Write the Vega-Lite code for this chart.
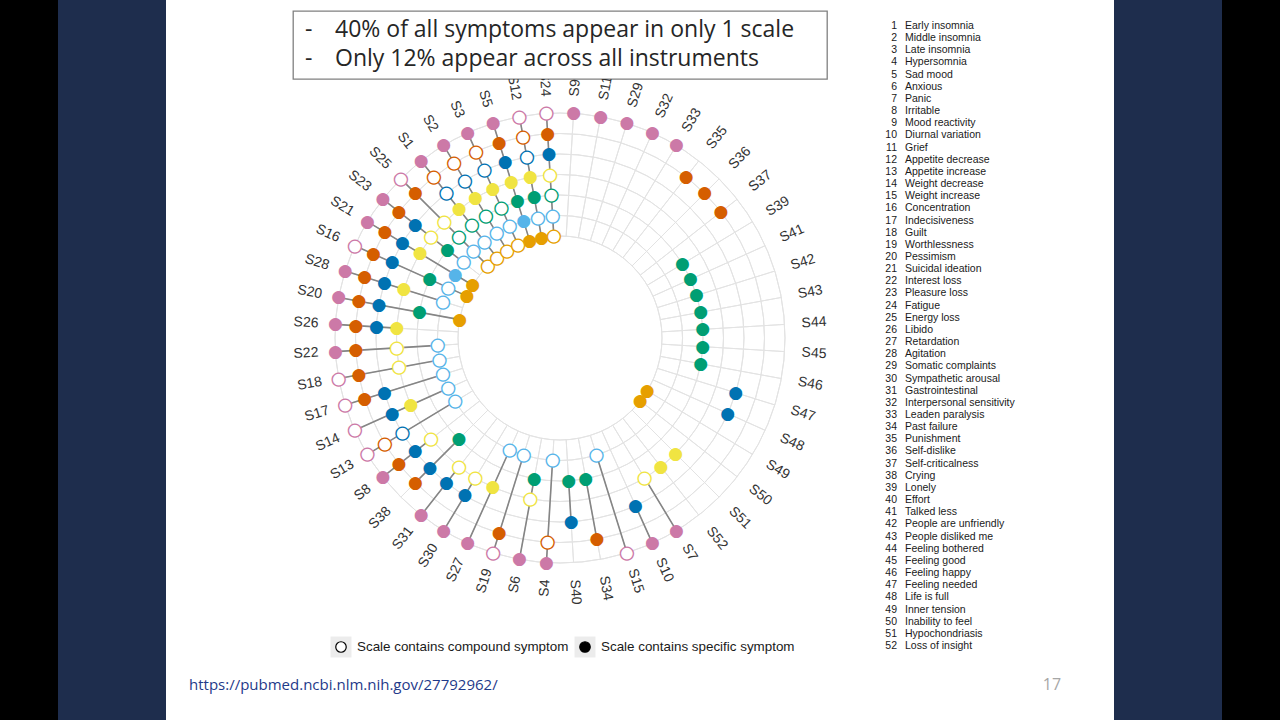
{
"$schema": "https://vega.github.io/schema/vega-lite/v6.json",
"background": "white",
"padding": 0,
"bounds": "flush",
"spacing": 0,
"columns": 7,
"align": "each",
"config": {"view": {"stroke": null}, "concat": {"spacing": 0}, "text": {"font": "Liberation Sans"}},
"datasets": {
"points": [
{"sym":"S9","scale":1,"type":"specific"},
{"sym":"S11","scale":1,"type":"specific"},
{"sym":"S29","scale":1,"type":"specific"},
{"sym":"S32","scale":1,"type":"specific"},
{"sym":"S33","scale":1,"type":"specific"},
{"sym":"S35","scale":2,"type":"specific"},
{"sym":"S36","scale":2,"type":"specific"},
{"sym":"S37","scale":2,"type":"specific"},
{"sym":"S39","scale":5,"type":"specific"},
{"sym":"S41","scale":5,"type":"specific"},
{"sym":"S42","scale":5,"type":"specific"},
{"sym":"S43","scale":5,"type":"specific"},
{"sym":"S44","scale":5,"type":"specific"},
{"sym":"S45","scale":5,"type":"specific"},
{"sym":"S46","scale":5,"type":"specific"},
{"sym":"S47","scale":3,"type":"specific"},
{"sym":"S48","scale":3,"type":"specific"},
{"sym":"S49","scale":7,"type":"specific"},
{"sym":"S50","scale":7,"type":"specific"},
{"sym":"S51","scale":4,"type":"specific"},
{"sym":"S52","scale":4,"type":"specific"},
{"sym":"S7","scale":1,"type":"specific"},
{"sym":"S7","scale":4,"type":"compound"},
{"sym":"S10","scale":1,"type":"specific"},
{"sym":"S10","scale":3,"type":"specific"},
{"sym":"S15","scale":1,"type":"compound"},
{"sym":"S15","scale":6,"type":"compound"},
{"sym":"S34","scale":2,"type":"specific"},
{"sym":"S34","scale":5,"type":"specific"},
{"sym":"S40","scale":3,"type":"specific"},
{"sym":"S40","scale":5,"type":"specific"},
{"sym":"S4","scale":1,"type":"specific"},
{"sym":"S4","scale":2,"type":"compound"},
{"sym":"S4","scale":6,"type":"compound"},
{"sym":"S6","scale":1,"type":"specific"},
{"sym":"S6","scale":4,"type":"compound"},
{"sym":"S6","scale":5,"type":"specific"},
{"sym":"S19","scale":1,"type":"compound"},
{"sym":"S19","scale":2,"type":"specific"},
{"sym":"S19","scale":6,"type":"compound"},
{"sym":"S27","scale":1,"type":"specific"},
{"sym":"S27","scale":4,"type":"specific"},
{"sym":"S27","scale":6,"type":"compound"},
{"sym":"S30","scale":1,"type":"specific"},
{"sym":"S30","scale":3,"type":"specific"},
{"sym":"S30","scale":4,"type":"compound"},
{"sym":"S31","scale":1,"type":"specific"},
{"sym":"S31","scale":3,"type":"specific"},
{"sym":"S31","scale":4,"type":"compound"},
{"sym":"S38","scale":2,"type":"specific"},
{"sym":"S38","scale":3,"type":"specific"},
{"sym":"S38","scale":5,"type":"specific"},
{"sym":"S8","scale":1,"type":"specific"},
{"sym":"S8","scale":2,"type":"specific"},
{"sym":"S8","scale":3,"type":"specific"},
{"sym":"S8","scale":4,"type":"compound"},
{"sym":"S13","scale":1,"type":"compound"},
{"sym":"S13","scale":2,"type":"compound"},
{"sym":"S13","scale":3,"type":"compound"},
{"sym":"S13","scale":6,"type":"compound"},
{"sym":"S14","scale":1,"type":"compound"},
{"sym":"S14","scale":3,"type":"specific"},
{"sym":"S14","scale":4,"type":"specific"},
{"sym":"S14","scale":6,"type":"compound"},
{"sym":"S17","scale":1,"type":"compound"},
{"sym":"S17","scale":2,"type":"specific"},
{"sym":"S17","scale":3,"type":"specific"},
{"sym":"S17","scale":6,"type":"compound"},
{"sym":"S18","scale":1,"type":"compound"},
{"sym":"S18","scale":2,"type":"specific"},
{"sym":"S18","scale":4,"type":"compound"},
{"sym":"S18","scale":6,"type":"compound"},
{"sym":"S22","scale":1,"type":"specific"},
{"sym":"S22","scale":2,"type":"specific"},
{"sym":"S22","scale":4,"type":"compound"},
{"sym":"S22","scale":6,"type":"compound"},
{"sym":"S26","scale":1,"type":"specific"},
{"sym":"S26","scale":2,"type":"specific"},
{"sym":"S26","scale":3,"type":"specific"},
{"sym":"S26","scale":4,"type":"specific"},
{"sym":"S20","scale":1,"type":"specific"},
{"sym":"S20","scale":2,"type":"specific"},
{"sym":"S20","scale":3,"type":"specific"},
{"sym":"S20","scale":5,"type":"specific"},
{"sym":"S20","scale":7,"type":"specific"},
{"sym":"S28","scale":1,"type":"specific"},
{"sym":"S28","scale":2,"type":"specific"},
{"sym":"S28","scale":3,"type":"specific"},
{"sym":"S28","scale":4,"type":"specific"},
{"sym":"S28","scale":6,"type":"compound"},
{"sym":"S16","scale":1,"type":"compound"},
{"sym":"S16","scale":2,"type":"specific"},
{"sym":"S16","scale":3,"type":"specific"},
{"sym":"S16","scale":5,"type":"specific"},
{"sym":"S16","scale":6,"type":"compound"},
{"sym":"S16","scale":7,"type":"specific"},
{"sym":"S21","scale":1,"type":"specific"},
{"sym":"S21","scale":2,"type":"specific"},
{"sym":"S21","scale":3,"type":"specific"},
{"sym":"S21","scale":4,"type":"specific"},
{"sym":"S21","scale":6,"type":"specific"},
{"sym":"S21","scale":7,"type":"specific"},
{"sym":"S23","scale":1,"type":"specific"},
{"sym":"S23","scale":2,"type":"specific"},
{"sym":"S23","scale":3,"type":"specific"},
{"sym":"S23","scale":4,"type":"compound"},
{"sym":"S23","scale":5,"type":"specific"},
{"sym":"S23","scale":6,"type":"compound"},
{"sym":"S25","scale":1,"type":"compound"},
{"sym":"S25","scale":2,"type":"specific"},
{"sym":"S25","scale":4,"type":"compound"},
{"sym":"S25","scale":5,"type":"compound"},
{"sym":"S25","scale":6,"type":"compound"},
{"sym":"S25","scale":7,"type":"compound"},
{"sym":"S1","scale":1,"type":"specific"},
{"sym":"S1","scale":2,"type":"compound"},
{"sym":"S1","scale":3,"type":"compound"},
{"sym":"S1","scale":4,"type":"specific"},
{"sym":"S1","scale":5,"type":"compound"},
{"sym":"S1","scale":6,"type":"compound"},
{"sym":"S1","scale":7,"type":"compound"},
{"sym":"S2","scale":1,"type":"specific"},
{"sym":"S2","scale":2,"type":"compound"},
{"sym":"S2","scale":3,"type":"compound"},
{"sym":"S2","scale":4,"type":"specific"},
{"sym":"S2","scale":5,"type":"compound"},
{"sym":"S2","scale":6,"type":"compound"},
{"sym":"S2","scale":7,"type":"compound"},
{"sym":"S3","scale":1,"type":"specific"},
{"sym":"S3","scale":2,"type":"compound"},
{"sym":"S3","scale":3,"type":"compound"},
{"sym":"S3","scale":4,"type":"specific"},
{"sym":"S3","scale":5,"type":"compound"},
{"sym":"S3","scale":6,"type":"compound"},
{"sym":"S3","scale":7,"type":"compound"},
{"sym":"S5","scale":1,"type":"specific"},
{"sym":"S5","scale":2,"type":"specific"},
{"sym":"S5","scale":3,"type":"specific"},
{"sym":"S5","scale":4,"type":"specific"},
{"sym":"S5","scale":5,"type":"specific"},
{"sym":"S5","scale":6,"type":"specific"},
{"sym":"S5","scale":7,"type":"specific"},
{"sym":"S12","scale":1,"type":"compound"},
{"sym":"S12","scale":2,"type":"compound"},
{"sym":"S12","scale":3,"type":"compound"},
{"sym":"S12","scale":4,"type":"specific"},
{"sym":"S12","scale":5,"type":"specific"},
{"sym":"S12","scale":6,"type":"compound"},
{"sym":"S12","scale":7,"type":"specific"},
{"sym":"S24","scale":1,"type":"compound"},
{"sym":"S24","scale":2,"type":"specific"},
{"sym":"S24","scale":3,"type":"specific"},
{"sym":"S24","scale":4,"type":"compound"},
{"sym":"S24","scale":5,"type":"compound"},
{"sym":"S24","scale":6,"type":"compound"},
{"sym":"S24","scale":7,"type":"compound"}
],
"names": [
{"num":1,"name":"Early insomnia"},{"num":2,"name":"Middle insomnia"},{"num":3,"name":"Late insomnia"},{"num":4,"name":"Hypersomnia"},{"num":5,"name":"Sad mood"},{"num":6,"name":"Anxious"},{"num":7,"name":"Panic"},{"num":8,"name":"Irritable"},{"num":9,"name":"Mood reactivity"},{"num":10,"name":"Diurnal variation"},{"num":11,"name":"Grief"},{"num":12,"name":"Appetite decrease"},{"num":13,"name":"Appetite increase"},{"num":14,"name":"Weight decrease"},{"num":15,"name":"Weight increase"},{"num":16,"name":"Concentration"},{"num":17,"name":"Indecisiveness"},{"num":18,"name":"Guilt"},{"num":19,"name":"Worthlessness"},{"num":20,"name":"Pessimism"},{"num":21,"name":"Suicidal ideation"},{"num":22,"name":"Interest loss"},{"num":23,"name":"Pleasure loss"},{"num":24,"name":"Fatigue"},{"num":25,"name":"Energy loss"},{"num":26,"name":"Libido"},{"num":27,"name":"Retardation"},{"num":28,"name":"Agitation"},{"num":29,"name":"Somatic complaints"},{"num":30,"name":"Sympathetic arousal"},{"num":31,"name":"Gastrointestinal"},{"num":32,"name":"Interpersonal sensitivity"},{"num":33,"name":"Leaden paralysis"},{"num":34,"name":"Past failure"},{"num":35,"name":"Punishment"},{"num":36,"name":"Self-dislike"},{"num":37,"name":"Self-criticalness"},{"num":38,"name":"Crying"},{"num":39,"name":"Lonely"},{"num":40,"name":"Effort"},{"num":41,"name":"Talked less"},{"num":42,"name":"People are unfriendly"},{"num":43,"name":"People disliked me"},{"num":44,"name":"Feeling bothered"},{"num":45,"name":"Feeling good"},{"num":46,"name":"Feeling happy"},{"num":47,"name":"Feeling needed"},{"num":48,"name":"Life is full"},{"num":49,"name":"Inner tension"},{"num":50,"name":"Inability to feel"},{"num":51,"name":"Hypochondriasis"},{"num":52,"name":"Loss of insight"}
],
"titleLines": [
{"line":1,"text":"40% of all symptoms appear in only 1 scale"},
{"line":2,"text":"Only 12% appear across all instruments"}
],
"legendItems": [
{"item":"compound","label":"Scale contains compound symptom"},
{"item":"specific","label":"Scale contains specific symptom"}
]
},
"concat": [
{"width":58,"height":11,"view":{"fill":"#000000"},"data":{"values":[]},"mark":"text"},
{"width":108,"height":11,"view":{"fill":"#1e2d4d"},"data":{"values":[]},"mark":"text"},
{"width":127,"height":11,"data":{"values":[]},"mark":"text"},
{"width":534,"height":11,"data":{"values":[]},"mark":"text"},
{"width":287,"height":11,"data":{"values":[]},"mark":"text"},
{"width":108,"height":11,"view":{"fill":"#1e2d4d"},"data":{"values":[]},"mark":"text"},
{"width":58,"height":11,"view":{"fill":"#000000"},"data":{"values":[]},"mark":"text"},

{"width":58,"height":68,"view":{"fill":"#000000"},"data":{"values":[]},"mark":"text"},
{"width":108,"height":68,"view":{"fill":"#1e2d4d"},"data":{"values":[]},"mark":"text"},
{"width":127,"height":68,"data":{"values":[]},"mark":"text"},
{"width":534,"height":68,"view":{"stroke":"#808080","strokeWidth":1.3,"fill":"white"},
 "data":{"name":"titleLines"},
 "encoding":{"y":{"field":"line","type":"ordinal","scale":{"type":"point","range":[19,48],"padding":0},"axis":null}},
 "layer":[
   {"mark":{"type":"text","text":"-","align":"left","baseline":"middle","dx":-255,"font":"Open Sans","fontSize":23,"color":"#262626"}},
   {"mark":{"type":"text","align":"left","baseline":"middle","dx":-225,"font":"Open Sans","fontSize":23,"color":"#262626"},"encoding":{"text":{"field":"text"}}}
 ]},
{"width":287,"height":68,"data":{"name":"names"},
 "encoding":{"y":{"field":"num","type":"quantitative","scale":{"domain":[1,52],"range":[15,635],"zero":false,"nice":false},"axis":null}},
 "layer":[
   {"mark":{"type":"text","align":"right","baseline":"middle","dx":-73.5,"fontSize":10.5,"color":"#1a1a1a"},"encoding":{"text":{"field":"num"}}},
   {"mark":{"type":"text","align":"left","baseline":"middle","dx":-65.5,"fontSize":10.5,"color":"#1a1a1a"},"encoding":{"text":{"field":"name"}}}
 ]},
{"width":108,"height":68,"view":{"fill":"#1e2d4d"},"data":{"values":[]},"mark":"text"},
{"width":58,"height":68,"view":{"fill":"#000000"},"data":{"values":[]},"mark":"text"},

{"width":58,"height":518,"view":{"fill":"#000000"},"data":{"values":[]},"mark":"text"},
{"width":108,"height":518,"view":{"fill":"#1e2d4d"},"data":{"values":[]},"mark":"text"},
{"width":127,"height":518,"data":{"values":[]},"mark":"text"},
{"width":534,"height":518,"data":{"name":"points"},
 "resolve":{"scale":{"angle":"independent"}},
 "layer":[
   {"transform":[{"aggregate":[{"op":"count","as":"n"}],"groupby":["scale"]}],
    "mark":{"type":"arc","theta":0,"theta2":6.2832,"filled":false,"fill":null,"stroke":"#e3e3e3","strokeWidth":1},
    "encoding":{"radius":{"field":"scale","type":"quantitative","scale":{"type":"linear","domain":[1,7],"range":[225,102],"zero":false,"nice":false}},"radius2":{"field":"scale"}}},
   {"transform":[{"aggregate":[{"op":"count","as":"n"}],"groupby":["sym"]}],
    "mark":{"type":"arc","filled":false,"fill":null,"stroke":"#e3e3e3","strokeWidth":1},
    "encoding":{
      "theta":{"field":"sym","type":"nominal","scale":{"type":"point","domain":["S9","S11","S29","S32","S33","S35","S36","S37","S39","S41","S42","S43","S44","S45","S46","S47","S48","S49","S50","S51","S52","S7","S10","S15","S34","S40","S4","S6","S19","S27","S30","S31","S38","S8","S13","S14","S17","S18","S22","S26","S20","S28","S16","S21","S23","S25","S1","S2","S3","S5","S12","S24"],"range":[0,6.283185307179586],"padding":0.5}},
      "theta2":{"field":"sym"},
      "radius":{"datum":1,"type":"quantitative","scale":{"type":"linear","domain":[1,7],"range":[225,102],"zero":false,"nice":false}},
      "radius2":{"datum":7}}},
   {"transform":[{"aggregate":[{"op":"min","field":"scale","as":"outer"},{"op":"max","field":"scale","as":"inner"}],"groupby":["sym"]},{"filter":"datum.outer < datum.inner"}],
    "mark":{"type":"arc","filled":false,"fill":null,"stroke":"#858585","strokeWidth":1.6},
    "encoding":{
      "theta":{"field":"sym","type":"nominal"},
      "theta2":{"field":"sym"},
      "radius":{"field":"outer","type":"quantitative"},
      "radius2":{"field":"inner"}}},
   {"transform":[{"filter":{"field":"type","equal":"specific"}}],
    "mark":{"type":"text","text":"●","font":"DejaVu Sans","fontSize":17,"align":"center","baseline":"middle"},
    "encoding":{
      "theta":{"field":"sym","type":"nominal"},
      "radius":{"field":"scale","type":"quantitative"},
      "color":{"field":"scale","type":"nominal","scale":{"domain":[1,2,3,4,5,6,7],"range":["#CC79A7","#D55E00","#0072B2","#F0E442","#009E73","#56B4E9","#E69F00"]},"legend":null}}},
   {"transform":[{"filter":{"field":"type","equal":"compound"}}],
    "mark":{"type":"text","text":"●","font":"DejaVu Sans","fontSize":17,"align":"center","baseline":"middle","fill":"white","strokeWidth":1.3},
    "encoding":{
      "theta":{"field":"sym","type":"nominal"},
      "radius":{"field":"scale","type":"quantitative"},
      "stroke":{"field":"scale","type":"nominal","scale":{"domain":[1,2,3,4,5,6,7],"range":["#CC79A7","#D55E00","#0072B2","#F0E442","#009E73","#56B4E9","#E69F00"]},"legend":null}}},
   {"transform":[{"aggregate":[{"op":"count","as":"n"}],"groupby":["sym"]},{"filter":{"field":"sym","oneOf":["S29","S32","S33","S35","S36","S37","S39","S41","S42","S43","S44","S45","S46","S47","S48","S49","S50","S51","S52","S7","S10","S15","S34","S40"]}}],
    "mark":{"type":"text","align":"left","baseline":"middle","fontSize":14,"color":"#333333"},
    "encoding":{
      "theta":{"field":"sym","type":"nominal"},
      "radius":{"datum":0.17,"type":"quantitative"},
      "angle":{"field":"sym","type":"nominal","scale":{"type":"point","domain":["S9","S11","S29","S32","S33","S35","S36","S37","S39","S41","S42","S43","S44","S45","S46","S47","S48","S49","S50","S51","S52","S7","S10","S15","S34","S40","S4","S6","S19","S27","S30","S31","S38","S8","S13","S14","S17","S18","S22","S26","S20","S28","S16","S21","S23","S25","S1","S2","S3","S5","S12","S24"],"range":[-90,270],"padding":0.5}},
      "text":{"field":"sym"}}},
   {"transform":[{"aggregate":[{"op":"count","as":"n"}],"groupby":["sym"]},{"filter":{"field":"sym","oneOf":["S9","S11"]}}],
    "mark":{"type":"text","align":"left","baseline":"middle","fontSize":14,"color":"#333333","clip":true},
    "encoding":{
      "theta":{"field":"sym","type":"nominal"},
      "radius":{"datum":0.17,"type":"quantitative"},
      "angle":{"field":"sym","type":"nominal","scale":{"type":"point","domain":["S9","S11","S29","S32","S33","S35","S36","S37","S39","S41","S42","S43","S44","S45","S46","S47","S48","S49","S50","S51","S52","S7","S10","S15","S34","S40","S4","S6","S19","S27","S30","S31","S38","S8","S13","S14","S17","S18","S22","S26","S20","S28","S16","S21","S23","S25","S1","S2","S3","S5","S12","S24"],"range":[-90,270],"padding":0.5}},
      "text":{"field":"sym"}}},
   {"transform":[{"aggregate":[{"op":"count","as":"n"}],"groupby":["sym"]},{"filter":{"field":"sym","oneOf":["S4","S6","S19","S27","S30","S31","S38","S8","S13","S14","S17","S18","S22","S26","S20","S28","S16","S21","S23","S25","S1","S2","S3","S5"]}}],
    "mark":{"type":"text","align":"right","baseline":"middle","fontSize":14,"color":"#333333"},
    "encoding":{
      "theta":{"field":"sym","type":"nominal"},
      "radius":{"datum":0.17,"type":"quantitative"},
      "angle":{"field":"sym","type":"nominal","scale":{"type":"point","domain":["S9","S11","S29","S32","S33","S35","S36","S37","S39","S41","S42","S43","S44","S45","S46","S47","S48","S49","S50","S51","S52","S7","S10","S15","S34","S40","S4","S6","S19","S27","S30","S31","S38","S8","S13","S14","S17","S18","S22","S26","S20","S28","S16","S21","S23","S25","S1","S2","S3","S5","S12","S24"],"range":[90,450],"padding":0.5}},
      "text":{"field":"sym"}}},
   {"transform":[{"aggregate":[{"op":"count","as":"n"}],"groupby":["sym"]},{"filter":{"field":"sym","oneOf":["S12","S24"]}}],
    "mark":{"type":"text","align":"right","baseline":"middle","fontSize":14,"color":"#333333","clip":true},
    "encoding":{
      "theta":{"field":"sym","type":"nominal"},
      "radius":{"datum":0.17,"type":"quantitative"},
      "angle":{"field":"sym","type":"nominal","scale":{"type":"point","domain":["S9","S11","S29","S32","S33","S35","S36","S37","S39","S41","S42","S43","S44","S45","S46","S47","S48","S49","S50","S51","S52","S7","S10","S15","S34","S40","S4","S6","S19","S27","S30","S31","S38","S8","S13","S14","S17","S18","S22","S26","S20","S28","S16","S21","S23","S25","S1","S2","S3","S5","S12","S24"],"range":[90,450],"padding":0.5}},
      "text":{"field":"sym"}}}
 ]},
{"width":287,"height":518,"data":{"values":[]},"mark":"text"},
{"width":108,"height":518,"view":{"fill":"#1e2d4d"},"data":{"values":[]},"mark":"text"},
{"width":58,"height":518,"view":{"fill":"#000000"},"data":{"values":[]},"mark":"text"},

{"width":58,"height":100,"view":{"fill":"#000000"},"data":{"values":[]},"mark":"text"},
{"width":108,"height":100,"view":{"fill":"#1e2d4d"},"data":{"values":[]},"mark":"text"},
{"width":127,"height":100,"data":{"values":[]},"mark":"text"},
{"width":534,"height":100,"data":{"name":"legendItems"},
 "layer":[
   {"mark":{"type":"point","shape":"square","size":441,"filled":true,"color":"#ececec","opacity":1},
    "encoding":{"x":{"field":"item","type":"nominal","scale":{"type":"point","domain":["compound","specific"],"range":[48,292],"padding":0},"axis":null}}},
   {"mark":{"type":"point","shape":"circle","size":110,"filled":true,"stroke":"#000000","strokeWidth":1.2,"opacity":1},
    "encoding":{"x":{"field":"item","type":"nominal"},
      "fill":{"field":"item","type":"nominal","scale":{"domain":["compound","specific"],"range":["#ffffff","#000000"]},"legend":null}}},
   {"mark":{"type":"text","align":"left","baseline":"middle","dx":16,"fontSize":13.4,"color":"#1a1a1a"},
    "encoding":{"x":{"field":"item","type":"nominal"},"text":{"field":"label"}}},
   {"data":{"values":[{"url":"https://pubmed.ncbi.nlm.nih.gov/27792962/"}]},
    "mark":{"type":"text","align":"left","baseline":"middle","dx":-371,"dy":38,"font":"Open Sans","fontSize":15,"color":"#1f3a8a"},
    "encoding":{"text":{"field":"url"}}}
 ]},
{"width":287,"height":100,"data":{"values":[{"page":"17"}]},"mark":{"type":"text","dx":81.5,"dy":38,"font":"Open Sans","fontSize":16,"color":"#a6a6a6","baseline":"middle"},"encoding":{"text":{"field":"page"}}},
{"width":108,"height":100,"view":{"fill":"#1e2d4d"},"data":{"values":[]},"mark":"text"},
{"width":58,"height":100,"view":{"fill":"#000000"},"data":{"values":[]},"mark":"text"},

{"width":58,"height":23,"view":{"fill":"#000000"},"data":{"values":[]},"mark":"text"},
{"width":108,"height":23,"view":{"fill":"#1e2d4d"},"data":{"values":[]},"mark":"text"},
{"width":127,"height":23,"data":{"values":[]},"mark":"text"},
{"width":534,"height":23,"data":{"values":[]},"mark":"text"},
{"width":287,"height":23,"data":{"values":[]},"mark":"text"},
{"width":108,"height":23,"view":{"fill":"#1e2d4d"},"data":{"values":[]},"mark":"text"},
{"width":58,"height":23,"view":{"fill":"#000000"},"data":{"values":[]},"mark":"text"}
]
}
